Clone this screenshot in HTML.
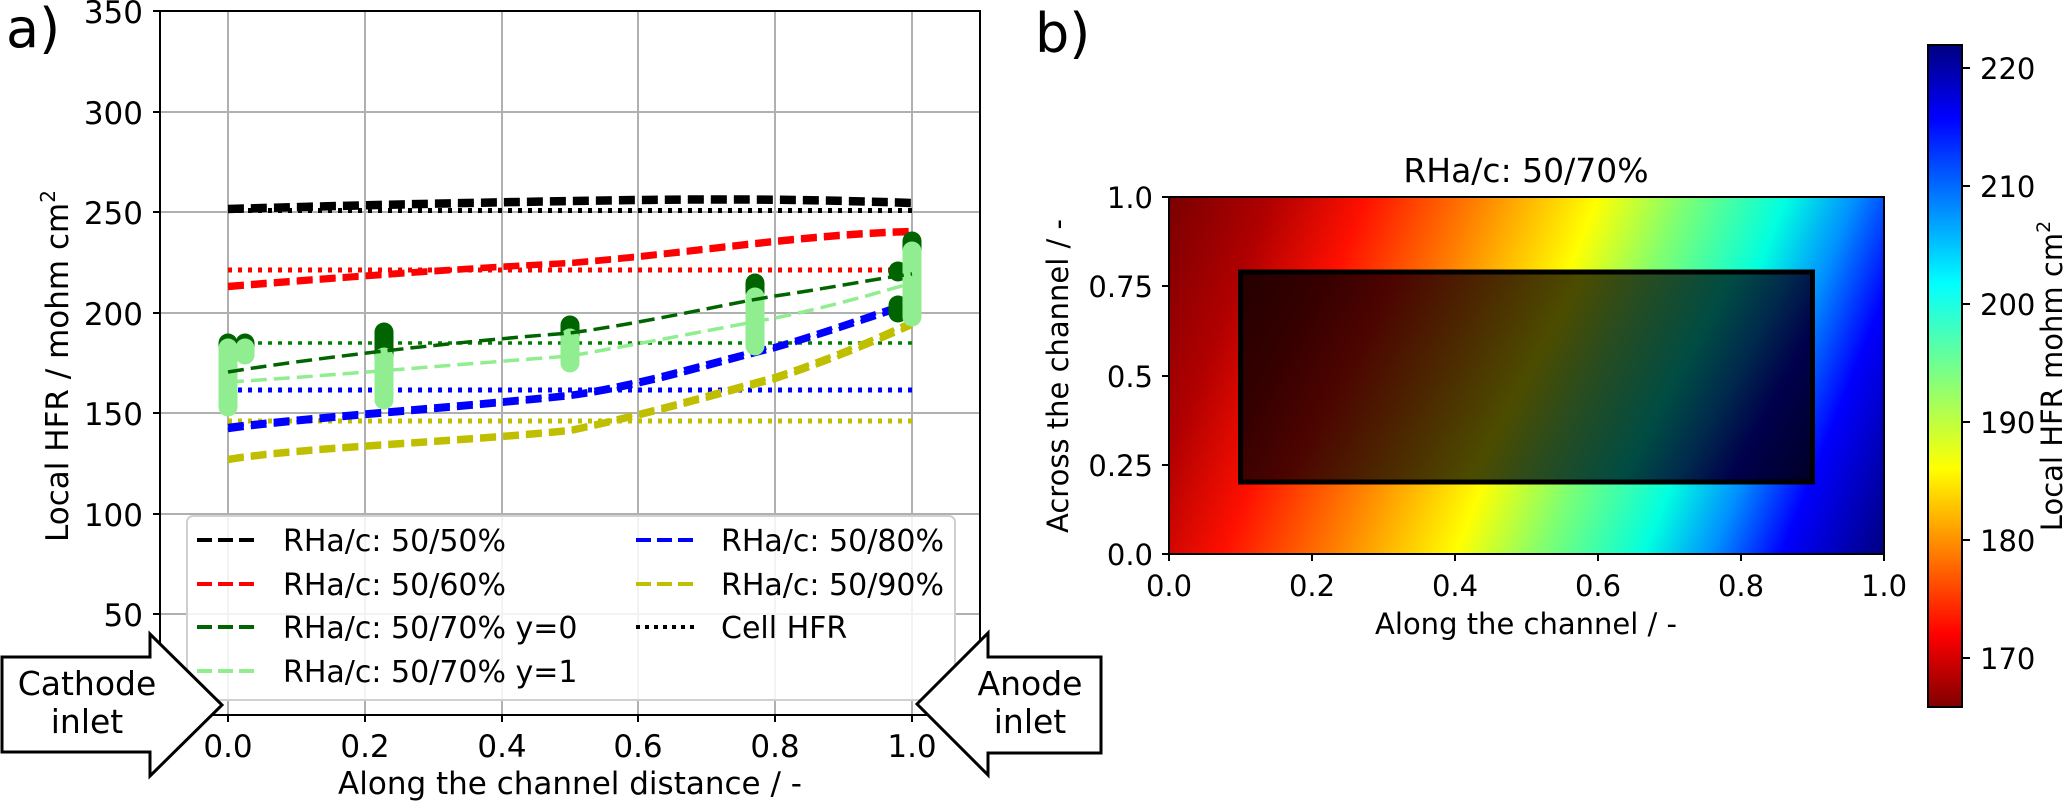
<!DOCTYPE html>
<html><head><meta charset="utf-8"><style>
html,body{margin:0;padding:0;background:#fff;}
svg{display:block;}
text{font-family:"DejaVu Sans","Liberation Sans",sans-serif;fill:#000;}
</style></head><body>
<svg width="2070" height="803" viewBox="0 0 2070 803" xmlns="http://www.w3.org/2000/svg">
<defs>
<linearGradient id="hm" x1="0" y1="0" x2="1.2" y2="0" gradientTransform="skewX(-11.3)">
<stop offset="0" stop-color="#7a0000"/>
<stop offset="0.12" stop-color="#b00000"/>
<stop offset="0.23" stop-color="#ff1000"/>
<stop offset="0.36" stop-color="#ff8000"/>
<stop offset="0.5" stop-color="#ffff00"/>
<stop offset="0.6" stop-color="#80ff70"/>
<stop offset="0.72" stop-color="#00ffe0"/>
<stop offset="0.8" stop-color="#0090ff"/>
<stop offset="0.88" stop-color="#0000ff"/>
<stop offset="1" stop-color="#000080"/>
</linearGradient>
<linearGradient id="cb" x1="0" y1="1" x2="0" y2="0">
<stop offset="0" stop-color="#800000"/>
<stop offset="0.11" stop-color="#ff0000"/>
<stop offset="0.36" stop-color="#ffff00"/>
<stop offset="0.5" stop-color="#80ff80"/>
<stop offset="0.64" stop-color="#00ffff"/>
<stop offset="0.89" stop-color="#0000ff"/>
<stop offset="1" stop-color="#000080"/>
</linearGradient>
</defs>

<!-- Panel a -->
<text x="6" y="47" font-size="54">a)</text>
<g stroke="#b0b0b0" stroke-width="2">
<line x1="228" y1="11" x2="228" y2="715"/><line x1="365" y1="11" x2="365" y2="715"/>
<line x1="502" y1="11" x2="502" y2="715"/><line x1="638" y1="11" x2="638" y2="715"/>
<line x1="775" y1="11" x2="775" y2="715"/><line x1="912" y1="11" x2="912" y2="715"/>
<line x1="160" y1="614" x2="980" y2="614"/><line x1="160" y1="514" x2="980" y2="514"/>
<line x1="160" y1="413" x2="980" y2="413"/><line x1="160" y1="313" x2="980" y2="313"/>
<line x1="160" y1="212" x2="980" y2="212"/><line x1="160" y1="112" x2="980" y2="112"/>
</g>
<g fill="none" stroke-width="5" stroke-dasharray="4,6">
<line x1="228" y1="210.5" x2="912" y2="210.5" stroke="#000"/>
<line x1="228" y1="270" x2="912" y2="270" stroke="#f00"/>
<line x1="228" y1="343" x2="912" y2="343" stroke="#008000" stroke-width="3.5"/>
<line x1="228" y1="390" x2="912" y2="390" stroke="#00f"/>
<line x1="228" y1="421" x2="912" y2="421" stroke="#bfbf00"/>
</g>
<g fill="none" stroke-width="4.5" stroke-dasharray="16,7">
<path d="M228,207 C300,205 430,201 638,198 C720,197 800,197 912,201" stroke="#000"/>
<path d="M228,211 C300,209 430,205 638,202 C720,201 800,201 912,205" stroke="#000"/>
<path d="M228,288 C300,282 450,270 570,264 C690,255 800,236 912,233" stroke="#f00"/>
<path d="M228,285 C300,279 450,268 570,262 C690,252 800,233 912,230" stroke="#f00"/>
<path d="M228,430 C300,420 450,410 570,397 C650,386 720,362 775,349 C830,333 880,315 912,305" stroke="#00f"/>
<path d="M228,426 C300,417 450,406 570,394 C650,382 720,358 775,346 C830,330 880,311 912,301" stroke="#00f"/>
<path d="M228,461 C300,449 450,444 570,432 C650,415 720,395 775,380 C830,362 880,340 912,326" stroke="#bfbf00"/>
<path d="M228,458 C300,446 450,441 570,429 C650,412 720,391 775,376 C830,358 880,336 912,321" stroke="#bfbf00"/>
</g>
<g stroke-linecap="round" stroke-width="19" fill="none">
<line x1="228" y1="343" x2="228" y2="347" stroke="#006400"/>
<line x1="245" y1="343" x2="245" y2="346" stroke="#006400"/>
<line x1="384" y1="332" x2="384" y2="367" stroke="#006400"/>
<line x1="570" y1="325" x2="570" y2="335" stroke="#006400"/>
<line x1="755" y1="283" x2="755" y2="292" stroke="#006400"/>
<line x1="898" y1="271" x2="898" y2="272" stroke="#006400"/>
<line x1="898" y1="305" x2="898" y2="313" stroke="#006400"/>
<line x1="912" y1="241" x2="912" y2="259" stroke="#006400"/>
<line x1="228" y1="348" x2="228" y2="407" stroke="#90ee90"/>
<line x1="245" y1="348" x2="245" y2="355" stroke="#90ee90"/>
<line x1="384" y1="357" x2="384" y2="400" stroke="#90ee90"/>
<line x1="570" y1="338" x2="570" y2="363" stroke="#90ee90"/>
<line x1="755" y1="297" x2="755" y2="346" stroke="#90ee90"/>
<line x1="912" y1="251" x2="912" y2="317" stroke="#90ee90"/>
</g>
<g fill="none" stroke-width="3.5" stroke-dasharray="16,7">
<path d="M228,372 C300,360 450,342 570,333 C650,322 720,305 775,296 C830,288 880,278 912,274" stroke="#006400"/>
<path d="M228,382 C300,378 450,365 570,356 C650,342 720,328 775,318 C830,307 880,292 912,283" stroke="#90ee90"/>
</g>
<!-- legend -->
<rect x="187" y="516" width="768" height="184" rx="6" fill="#fff" fill-opacity="0.85" stroke="#d0d0d0" stroke-width="2"/>
<g stroke-width="4" stroke-dasharray="15,6">
<line x1="197" y1="540" x2="258" y2="540" stroke="#000"/>
<line x1="197" y1="584" x2="258" y2="584" stroke="#f00"/>
<line x1="197" y1="627" x2="258" y2="627" stroke="#006400"/>
<line x1="197" y1="671" x2="258" y2="671" stroke="#90ee90"/>
<line x1="636" y1="540" x2="697" y2="540" stroke="#00f"/>
<line x1="636" y1="584" x2="697" y2="584" stroke="#bfbf00"/>
<line x1="636" y1="627" x2="697" y2="627" stroke="#000" stroke-dasharray="4,5"/>
</g>
<g font-size="30">
<text x="283" y="551">RHa/c: 50/50%</text>
<text x="283" y="595">RHa/c: 50/60%</text>
<text x="283" y="638">RHa/c: 50/70% y=0</text>
<text x="283" y="682">RHa/c: 50/70% y=1</text>
<text x="721" y="551">RHa/c: 50/80%</text>
<text x="721" y="595">RHa/c: 50/90%</text>
<text x="721" y="638">Cell HFR</text>
</g>
<rect x="160" y="11" width="820" height="704" fill="none" stroke="#000" stroke-width="2"/>
<g stroke="#000" stroke-width="2">
<line x1="153" y1="614" x2="160" y2="614"/><line x1="153" y1="514" x2="160" y2="514"/><line x1="153" y1="413" x2="160" y2="413"/>
<line x1="153" y1="313" x2="160" y2="313"/><line x1="153" y1="212" x2="160" y2="212"/><line x1="153" y1="112" x2="160" y2="112"/><line x1="153" y1="11" x2="160" y2="11"/>
<line x1="228" y1="715" x2="228" y2="722"/><line x1="365" y1="715" x2="365" y2="722"/><line x1="502" y1="715" x2="502" y2="722"/>
<line x1="638" y1="715" x2="638" y2="722"/><line x1="775" y1="715" x2="775" y2="722"/><line x1="912" y1="715" x2="912" y2="722"/>
</g>
<g font-size="31" text-anchor="end">
<text x="143" y="626">50</text><text x="143" y="526">100</text><text x="143" y="425">150</text>
<text x="143" y="325">200</text><text x="143" y="224">250</text><text x="143" y="124">300</text><text x="143" y="23">350</text>
</g>
<g font-size="31" text-anchor="middle">
<text x="228" y="757">0.0</text><text x="365" y="757">0.2</text><text x="502" y="757">0.4</text>
<text x="638" y="757">0.6</text><text x="775" y="757">0.8</text><text x="912" y="757">1.0</text>
<text x="570" y="794">Along the channel distance / -</text>
<text transform="translate(68,366) rotate(-90)">Local HFR / mohm cm<tspan font-size="20" dy="-13">2</tspan></text>
</g>
<!-- arrows -->
<polygon points="2,657 150,657 150,634 222,705 150,776 150,752 2,752" fill="#fff" stroke="#000" stroke-width="3"/>
<polygon points="917,704 988,633 988,657 1101,657 1101,753 988,753 988,775" fill="#fff" stroke="#000" stroke-width="3"/>
<g font-size="33" text-anchor="middle">
<text x="87" y="695">Cathode</text><text x="87" y="733">inlet</text>
<text x="1030" y="695">Anode</text><text x="1030" y="733">inlet</text>
</g>

<!-- Panel b -->
<text x="1035" y="52" font-size="54">b)</text>
<text x="1526" y="182" font-size="33" text-anchor="middle">RHa/c: 50/70%</text>
<rect x="1169" y="197" width="715" height="357" fill="url(#hm)"/>
<rect x="1240.5" y="272" width="572" height="210" fill="url(#hm)"/>
<rect x="1240.5" y="272" width="572" height="210" fill="#000" fill-opacity="0.7" stroke="#000" stroke-width="5"/>
<rect x="1169" y="197" width="715" height="357" fill="none" stroke="#000" stroke-width="2"/>
<g stroke="#000" stroke-width="2">
<line x1="1169" y1="554" x2="1169" y2="561"/><line x1="1312" y1="554" x2="1312" y2="561"/><line x1="1455" y1="554" x2="1455" y2="561"/>
<line x1="1598" y1="554" x2="1598" y2="561"/><line x1="1741" y1="554" x2="1741" y2="561"/><line x1="1884" y1="554" x2="1884" y2="561"/>
<line x1="1162" y1="554" x2="1169" y2="554"/><line x1="1162" y1="465" x2="1169" y2="465"/><line x1="1162" y1="376" x2="1169" y2="376"/>
<line x1="1162" y1="286" x2="1169" y2="286"/><line x1="1162" y1="197" x2="1169" y2="197"/>
</g>
<g font-size="29" text-anchor="middle">
<text x="1169" y="596">0.0</text><text x="1312" y="596">0.2</text><text x="1455" y="596">0.4</text>
<text x="1598" y="596">0.6</text><text x="1741" y="596">0.8</text><text x="1884" y="596">1.0</text>
<text x="1526" y="634">Along the channel / -</text>
<text transform="translate(1068,376) rotate(-90)">Across the channel / -</text>
</g>
<g font-size="29" text-anchor="end">
<text x="1153" y="565">0.0</text><text x="1153" y="476">0.25</text><text x="1153" y="387">0.5</text>
<text x="1153" y="297">0.75</text><text x="1153" y="208">1.0</text>
</g>
<!-- colorbar -->
<rect x="1928" y="45" width="34" height="662" fill="url(#cb)" stroke="#000" stroke-width="2"/>
<g stroke="#000" stroke-width="2">
<line x1="1962" y1="658" x2="1970" y2="658"/><line x1="1962" y1="540" x2="1970" y2="540"/><line x1="1962" y1="422" x2="1970" y2="422"/>
<line x1="1962" y1="304" x2="1970" y2="304"/><line x1="1962" y1="186" x2="1970" y2="186"/><line x1="1962" y1="68" x2="1970" y2="68"/>
</g>
<g font-size="29">
<text x="1980" y="669">170</text><text x="1980" y="551">180</text><text x="1980" y="433">190</text>
<text x="1980" y="315">200</text><text x="1980" y="197">210</text><text x="1980" y="79">220</text>
</g>
<text transform="translate(2062,376) rotate(-90)" font-size="29" text-anchor="middle">Local HFR mohm cm<tspan font-size="19" dy="-12">2</tspan></text>
</svg>
</body></html>
